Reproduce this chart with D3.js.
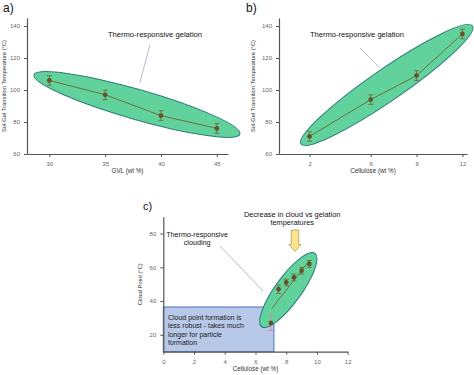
<!DOCTYPE html>
<html>
<head>
<meta charset="utf-8">
<script src="https://cdn.jsdelivr.net/npm/d3@7"></script>
<style>
  body { margin: 0; background: #fff; }
  svg { display: block; font-family: "Liberation Sans", Arial, sans-serif; }
</style>
</head>
<body>
<svg id="chart" width="474" height="375"></svg>
<script>
// panel a - GVL
const gvlX = [30, 35, 40, 45];
const gvlTemp = [106, 97, 84, 76];
const gvlErr = [3, 3, 3, 3];

// panel b - cellulose
const celX = [2, 6, 9, 12];
const celTemp = [71, 94, 109, 135];
const celErr = [3, 3, 3, 3];

// panel c - cloud point
const cloudX = [7, 7.5, 8, 8.5, 9, 9.5];
const cloudTemp = [27, 47, 51, 54, 58, 62];
const cloudErr = [4.5, 2.5, 2, 2, 2, 2];
const cloudFitX = [7.05, 9.55];
const cloudFitY = [35.5, 64.5];

const tempTicks = [60, 80, 100, 120, 140];
const cloudTicks = [20, 40, 60, 80];
const cloudXTicks = [0, 2, 4, 6, 8, 10, 12];

const svg = d3.select("#chart");

const ellipseFill = "#62d29c";
const ellipseStroke = "#2f7c7c";
const markColor = "#6e6535";
const leaderColor = "#a9b6c4";

function drawAxes(g, x, y, xTicks, yTicks, xTitle, yTitle, xTitleY, yTitleX) {
    const xAxis = g.append("g")
        .attr("transform", `translate(0,${y.range()[0]})`)
        .call(d3.axisBottom(x).tickValues(xTicks).tickSize(3).tickSizeOuter(0).tickPadding(5));
    const yAxis = g.append("g")
        .attr("transform", `translate(${x.range()[0]},0)`)
        .call(d3.axisLeft(y).tickValues(yTicks).tickSize(3).tickSizeOuter(0).tickPadding(4));
    [xAxis, yAxis].forEach(a => {
        a.select(".domain").attr("stroke", "#555").attr("stroke-width", 1.2);
        a.selectAll(".tick line").attr("stroke", "#555");
        a.selectAll(".tick text").attr("fill", "#666").style("font-size", "6px")
            .style("font-family", "Liberation Sans, Arial, sans-serif");
    });

    g.append("text")
        .attr("x", (x.range()[0] + x.range()[1]) / 2)
        .attr("y", xTitleY)
        .attr("text-anchor", "middle")
        .style("font-size", "6.3px")
        .attr("fill", "#333")
        .text(xTitle);

    g.append("text")
        .attr("transform", `translate(${yTitleX},${(y.range()[0] + y.range()[1]) / 2}) rotate(-90)`)
        .attr("text-anchor", "middle")
        .style("font-size", "5.8px")
        .attr("fill", "#333")
        .text(yTitle);
}

function drawEllipse(g, x, y, p1, p2, halfWidth) {
    const x1 = x(p1[0]), y1 = y(p1[1]), x2 = x(p2[0]), y2 = y(p2[1]);
    const cx = (x1 + x2) / 2, cy = (y1 + y2) / 2;
    const rx = Math.hypot(x2 - x1, y2 - y1) / 2;
    const ang = Math.atan2(y2 - y1, x2 - x1) * 180 / Math.PI;
    g.append("ellipse")
        .attr("cx", 0).attr("cy", 0)
        .attr("rx", rx).attr("ry", halfWidth)
        .attr("transform", `translate(${cx},${cy}) rotate(${ang})`)
        .attr("fill", ellipseFill)
        .attr("stroke", ellipseStroke)
        .attr("stroke-width", 1);
}

function drawPoints(g, x, y, xs, ys, errs, errColors) {
    const pts = xs.map((d, i) => ({ x: d, y: ys[i], e: errs[i], c: errColors ? errColors[i] : markColor }));
    const bars = g.append("g").selectAll("g").data(pts).enter().append("g");
    bars.append("line")
        .attr("x1", d => x(d.x)).attr("x2", d => x(d.x))
        .attr("y1", d => y(d.y - d.e)).attr("y2", d => y(d.y + d.e))
        .attr("stroke", d => d.c).attr("stroke-width", 0.8);
    [-1, 1].forEach(s => {
        bars.append("line")
            .attr("x1", d => x(d.x) - 2.5).attr("x2", d => x(d.x) + 2.5)
            .attr("y1", d => y(d.y + s * d.e)).attr("y2", d => y(d.y + s * d.e))
            .attr("stroke", d => d.c).attr("stroke-width", 0.8);
    });
    bars.append("circle")
        .attr("cx", d => x(d.x)).attr("cy", d => y(d.y))
        .attr("r", 2.4)
        .attr("fill", "#65522a");
}

function drawLine(g, x, y, xs, ys) {
    const line = d3.line().x(d => x(d[0])).y(d => y(d[1]));
    g.append("path")
        .datum(xs.map((d, i) => [d, ys[i]]))
        .attr("d", line)
        .attr("fill", "none")
        .attr("stroke", markColor)
        .attr("stroke-width", 0.9);
}

function leader(g, x, y, a, b) {
    g.append("line")
        .attr("x1", x(a[0])).attr("y1", y(a[1]))
        .attr("x2", x(b[0])).attr("y2", y(b[1]))
        .attr("stroke", leaderColor).attr("stroke-width", 0.9);
}

function label(g, text, px, py, size) {
    g.append("text").attr("x", px).attr("y", py)
        .style("font-size", size + "px").attr("fill", "#111").text(text);
}

// ---------- panel a ----------
{
    const g = svg.append("g");
    const x = d3.scaleLinear().domain([28, 46]).range([27, 228]);
    const y = d3.scaleLinear().domain([60, 145]).range([154, 18]);
    drawEllipse(g, x, y, [28.63, 109.4], [47.07, 72.5], 15);
    drawAxes(g, x, y, gvlX, tempTicks, "GVL (wt %)", "Sol-Gel Transition Temperature (°C)", 173, 6);
    leader(g, x, y, [39.0, 128.1], [38.1, 104.4]);
    g.append("text").attr("x", x(39.46)).attr("y", y(133.1))
        .attr("text-anchor", "middle").style("font-size", "7.6px").attr("fill", "#111")
        .text("Thermo-responsive gelation");
    drawLine(g, x, y, gvlX, gvlTemp);
    drawPoints(g, x, y, gvlX, gvlTemp, gvlErr);
    label(g, "a)", 3, 12, 12);
}

// ---------- panel b ----------
{
    const g = svg.append("g");
    const x = d3.scaleLinear().domain([0, 12.3]).range([279, 467]);
    const y = d3.scaleLinear().domain([60, 145]).range([154, 18]);
    drawEllipse(g, x, y, [1.44, 66.25], [12.66, 140], 16);
    drawAxes(g, x, y, celX, tempTicks, "Cellulose (wt %)", "Sol-Gel Transition Temperature (°C)", 173, 255);
    leader(g, x, y, [5.3, 126.25], [6.6, 113.75]);
    g.append("text").attr("x", x(5.1)).attr("y", y(133.1))
        .attr("text-anchor", "middle").style("font-size", "7.6px").attr("fill", "#111")
        .text("Thermo-responsive gelation");
    drawLine(g, x, y, celX, celTemp);
    drawPoints(g, x, y, celX, celTemp, celErr);
    label(g, "b)", 246, 12, 12);
}

// ---------- panel c ----------
{
    const g = svg.append("g");
    const x = d3.scaleLinear().domain([0, 12]).range([163.3, 347.7]);
    const y = d3.scaleLinear().domain([10, 90]).range([351.7, 216.7]);

    // blue box
    g.append("rect")
        .attr("x", x(0)).attr("y", y(36.5))
        .attr("width", x(7.2) - x(0)).attr("height", y(10) - y(36.5))
        .attr("fill", "#b7c8e8").attr("stroke", "#4a72c0").attr("stroke-width", 1);
    ["Cloud point formation is", "less robust - takes much", "longer for particle", "formation"]
        .forEach((t, i) => {
            g.append("text").attr("x", x(0.3)).attr("y", 320 + i * 8.3)
                .style("font-size", "7px").attr("fill", "#222").text(t);
        });

    drawEllipse(g, x, y, [6.4, 24.8], [9.87, 68.3], 13);
    drawAxes(g, x, y, cloudXTicks, cloudTicks, "Cellulose (wt %)", "Cloud Point (°C)", 371, 142);

    leader(g, x, y, [3.69, 72.6], [6.5, 45.9]);
    ["Thermo-responsive", "clouding"].forEach((t, i) => {
        g.append("text").attr("x", x(2.2)).attr("y", 237 + i * 8.3)
            .attr("text-anchor", "middle").style("font-size", "7.2px").attr("fill", "#111").text(t);
    });
    ["Decrease in cloud vs gelation", "temperatures"].forEach((t, i) => {
        g.append("text").attr("x", x(8.39)).attr("y", 217 + i * 8.3)
            .attr("text-anchor", "middle").style("font-size", "7.4px").attr("fill", "#111").text(t);
    });

    // yellow down arrow
    const ax = x(8.57), top = 230, bot = 251.5;
    const arrow = [[ax - 3.8, top], [ax + 3.8, top], [ax + 3.8, bot - 7], [ax + 6, bot - 7],
                   [ax, bot], [ax - 6, bot - 7], [ax - 3.8, bot - 7]];
    g.append("path")
        .attr("d", d3.line()(arrow) + "Z")
        .attr("fill", "#ffe38a").attr("stroke", "#a8a070").attr("stroke-width", 0.8);

    drawLine(g, x, y, cloudFitX, cloudFitY);
    drawPoints(g, x, y, cloudX, cloudTemp, cloudErr,
        cloudX.map((d, i) => i === 0 ? "#e07aa0" : markColor));
    label(g, "c)", 143, 210, 11);
}
</script>
</body>
</html>
